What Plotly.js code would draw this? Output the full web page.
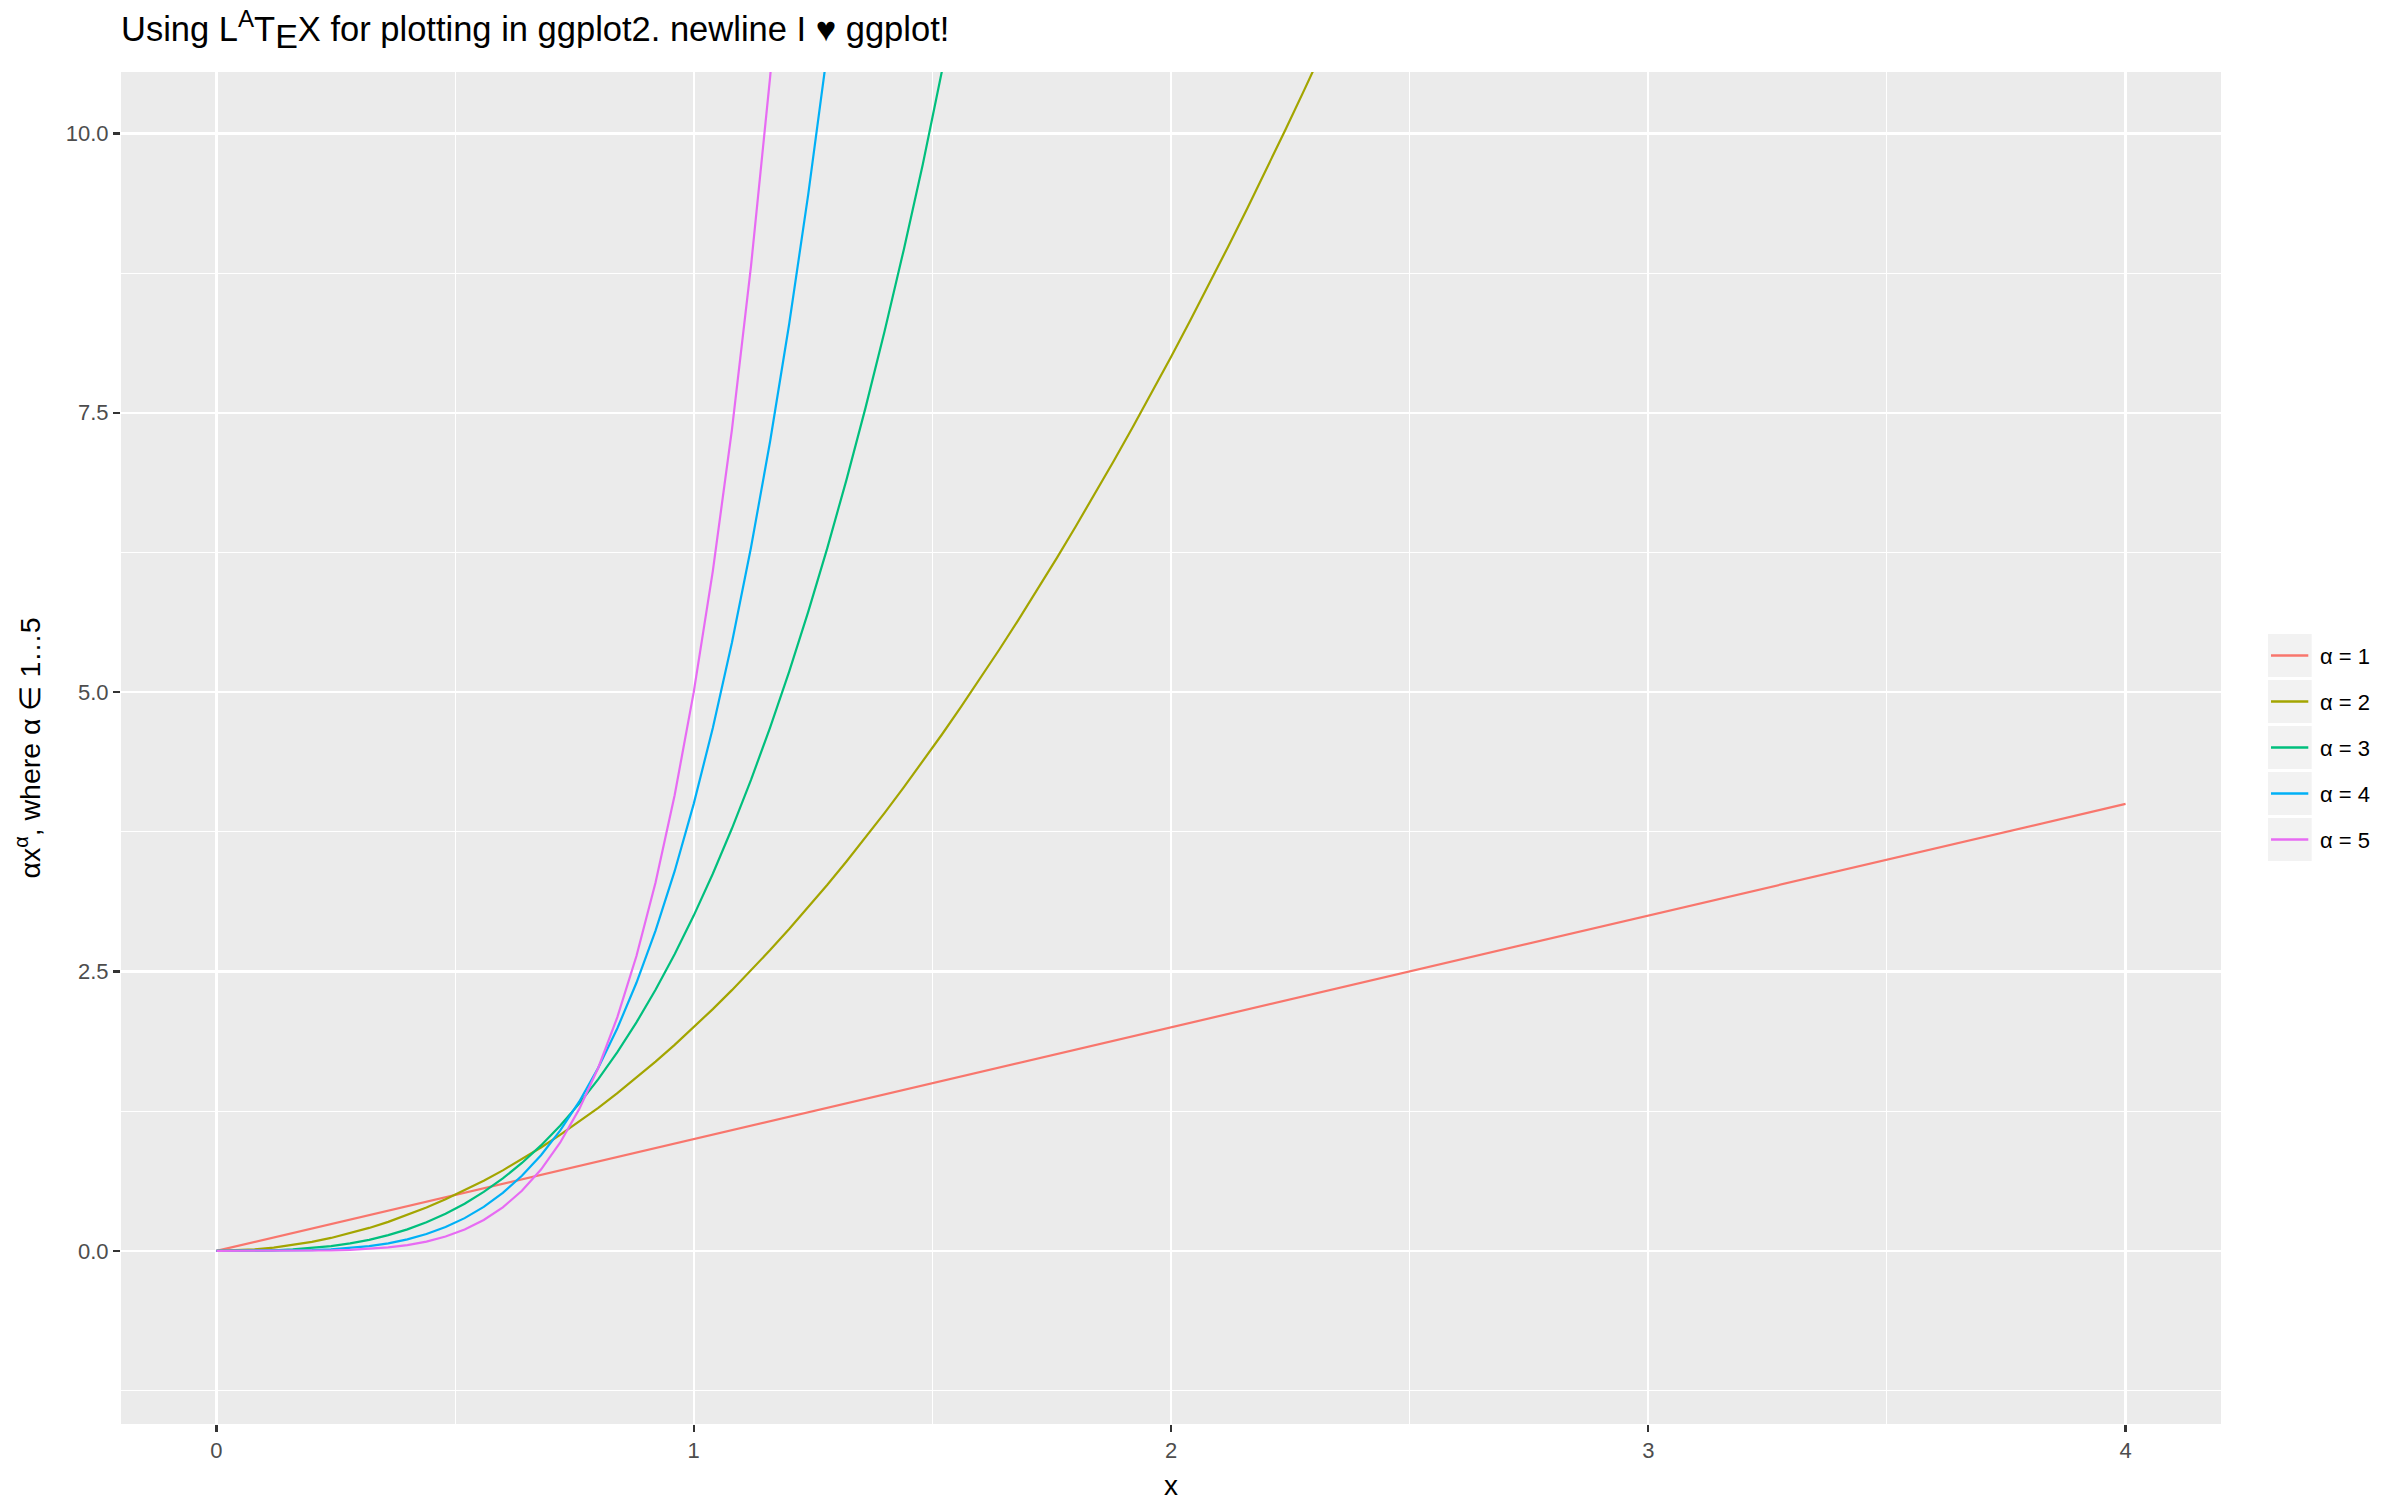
<!DOCTYPE html>
<html>
<head>
<meta charset="utf-8">
<script src="https://cdn.plot.ly/plotly-3.0.1.min.js"></script>
<style>
  html, body { margin: 0; padding: 0; background: #ffffff; }
  #chart { width: 2400px; height: 1504px; }
</style>
</head>
<body>
<div id="chart"></div>
<script>
// ---------------- data ----------------
const seriesNames = ["α = 1", "α = 2", "α = 3", "α = 4", "α = 5"];
const seriesColors = ["#F8766D", "#A3A500", "#00BF7D", "#00B0F6", "#E76BF3"];

const xValues = [0,0.04,0.08,0.12,0.16,0.2,0.24,0.28,0.32,0.36,0.4,0.44,0.48,0.52,0.56,0.6,0.64,0.68,0.72,0.76,
  0.8,0.84,0.88,0.92,0.96,1,1.04,1.08,1.12,1.16,1.2,1.24,1.28,1.32,1.36,1.4,1.44,1.48,1.52,1.56,
  1.6,1.64,1.68,1.72,1.76,1.8,1.84,1.88,1.92,1.96,2,2.04,2.08,2.12,2.16,2.2,2.24,2.28,2.32,2.36,
  2.4,2.44,2.48,2.52,2.56,2.6,2.64,2.68,2.72,2.76,2.8,2.84,2.88,2.92,2.96,3,3.04,3.08,3.12,3.16,
  3.2,3.24,3.28,3.32,3.36,3.4,3.44,3.48,3.52,3.56,3.6,3.64,3.68,3.72,3.76,3.8,3.84,3.88,3.92,3.96,4];

const yAlpha1 = [0,0.04,0.08,0.12,0.16,0.2,0.24,0.28,0.32,0.36,0.4,0.44,0.48,0.52,0.56,0.6,0.64,0.68,0.72,0.76,
  0.8,0.84,0.88,0.92,0.96,1,1.04,1.08,1.12,1.16,1.2,1.24,1.28,1.32,1.36,1.4,1.44,1.48,1.52,1.56,
  1.6,1.64,1.68,1.72,1.76,1.8,1.84,1.88,1.92,1.96,2,2.04,2.08,2.12,2.16,2.2,2.24,2.28,2.32,2.36,
  2.4,2.44,2.48,2.52,2.56,2.6,2.64,2.68,2.72,2.76,2.8,2.84,2.88,2.92,2.96,3,3.04,3.08,3.12,3.16,
  3.2,3.24,3.28,3.32,3.36,3.4,3.44,3.48,3.52,3.56,3.6,3.64,3.68,3.72,3.76,3.8,3.84,3.88,3.92,3.96,4];

const yAlpha2 = [0,0.0032,0.0128,0.0288,0.0512,0.08,0.1152,0.1568,0.2048,0.2592,0.32,0.3872,0.4608,0.5408,0.6272,
  0.72,0.8192,0.9248,1.0368,1.1552,1.28,1.4112,1.5488,1.6928,1.8432,2,2.1632,2.3328,2.5088,2.6912,
  2.88,3.0752,3.2768,3.4848,3.6992,3.92,4.1472,4.3808,4.6208,4.8672,5.12,5.3792,5.6448,5.9168,6.1952,
  6.48,6.7712,7.0688,7.3728,7.6832,8,8.3232,8.6528,8.9888,9.3312,9.68,10.0352,10.3968,10.7648];

const yAlpha3 = [0,0.0002,0.0015,0.0052,0.0123,0.024,0.0415,0.0659,0.0983,0.14,0.192,0.2556,0.3318,0.4218,0.5268,
  0.648,0.7864,0.9433,1.1197,1.3169,1.536,1.7781,2.0444,2.3361,2.6542,3,3.3746,3.7791,4.2148,4.6827,
  5.184,5.7199,6.2915,6.8999,7.5464,8.232,8.958,9.7254,10.5354,11.3892];

const yAlpha4 = [0,0.00001,0.0002,0.0008,0.0026,0.0064,0.0133,0.0246,0.0419,0.0672,0.1024,0.1499,0.2123,0.2925,
  0.3934,0.5184,0.6711,0.8553,1.075,1.3345,1.6384,1.9915,2.3988,2.8656,3.3974,4,4.6794,5.442,6.2941,
  7.2426,8.2944,9.4569,10.7374];

const yAlpha5 = [0,0.0000005,0.0000164,0.0001244,0.0005243,0.0016,0.0039813,0.0086052,0.0167772,0.0302331,0.0512,
  0.0824581,0.127402,0.190102,0.2753659,0.3888,0.5368709,0.7269668,0.9674588,1.2677627,1.6384,2.0910597,
  2.6386596,3.2954076,4.0768635,5,6.0832645,7.3466404,8.8117084,10.5016083,12.4416];

const ySeries = [yAlpha1, yAlpha2, yAlpha3, yAlpha4, yAlpha5];

const xTickVals = [0, 1, 2, 3, 4];
const xTickText = ["0", "1", "2", "3", "4"];
const yTickVals = [0, 2.5, 5, 7.5, 10];
const yTickText = ["0.0", "2.5", "5.0", "7.5", "10.0"];

const titleText = "Using L<sup>A</sup>T<sub><span style=\"font-size:34px\">E</span></sub>X for plotting in ggplot2. newline I ♥ ggplot!";
const xTitleText = "x";
const yTitleText = "αx<sup>α</sup>, where α ∈ 1…5";

// ---------------- layout helpers (pixel geometry) ----------------
const W = 2400, H = 1504;
const M = { l: 121, r: 179, t: 72, b: 80 };
const PW = W - M.l - M.r, PH = H - M.t - M.b;
const px2x = px => (px - M.l) / PW;
const py2y = py => (H - M.b - py) / PH;

const FONT = "Liberation Sans, Arial, Helvetica, sans-serif";

const traces = seriesNames.map((name, i) => ({
  type: "scatter",
  mode: "lines",
  name: name,
  x: xValues,
  y: ySeries[i],
  line: { color: seriesColors[i], width: 2.2 },
  showlegend: false,
  hoverinfo: "skip"
}));

// custom ggplot-style legend
const shapes = [];
const annotations = [];
seriesNames.forEach((name, i) => {
  const top = 634 + 46 * i;
  const bot = top + 43;
  const mid = (top + bot) / 2;
  shapes.push({
    type: "rect", xref: "paper", yref: "paper",
    x0: px2x(2268), x1: px2x(2311.7), y0: py2y(bot), y1: py2y(top),
    fillcolor: "#F2F2F2", line: { width: 0 }, layer: "above"
  });
  shapes.push({
    type: "line", xref: "paper", yref: "paper",
    x0: px2x(2271), x1: px2x(2308.3), y0: py2y(mid), y1: py2y(mid),
    line: { color: seriesColors[i], width: 2.4 }, layer: "above"
  });
  annotations.push({
    xref: "paper", yref: "paper", x: px2x(2318), y: py2y(mid + 1),
    xanchor: "left", yanchor: "middle", showarrow: false,
    text: name, font: { family: FONT, size: 22, color: "#000000" }
  });
});

const layout = {
  width: W, height: H,
  margin: M,
  paper_bgcolor: "#FFFFFF",
  plot_bgcolor: "#EBEBEB",
  showlegend: false,
  font: { family: FONT, color: "#000000" },
  title: {
    text: titleText,
    font: { family: FONT, size: 34.5, color: "#000000" },
    xref: "paper", x: 0, xanchor: "left",
    yref: "container", y: 1 - 29 / H, yanchor: "middle"
  },
  xaxis: {
    range: [-0.2, 4.2],
    tickvals: xTickVals, ticktext: xTickText,
    showgrid: true, gridcolor: "#FFFFFF", gridwidth: 2.2,
    minor: { dtick: 0.5, tick0: 0, showgrid: true, gridcolor: "#FFFFFF", gridwidth: 1.1, ticks: "" },
    zeroline: false, showline: false,
    ticks: "outside", ticklen: 7, tickwidth: 2.2, tickcolor: "#333333",
    tickfont: { family: FONT, size: 22, color: "#4D4D4D" },
    title: { text: xTitleText, font: { family: FONT, size: 28, color: "#000000" }, standoff: 12 },
    automargin: false
  },
  yaxis: {
    range: [-1.55, 10.55],
    tickvals: yTickVals, ticktext: yTickText,
    showgrid: true, gridcolor: "#FFFFFF", gridwidth: 2.2,
    minor: { dtick: 1.25, tick0: 0, showgrid: true, gridcolor: "#FFFFFF", gridwidth: 1.1, ticks: "" },
    zeroline: false, showline: false,
    ticks: "outside", ticklen: 7, tickwidth: 2.2, tickcolor: "#333333",
    tickfont: { family: FONT, size: 22, color: "#4D4D4D" },
    title: { text: yTitleText, font: { family: FONT, size: 28.5, color: "#000000" }, standoff: 16 },
    automargin: false
  },
  shapes: shapes,
  annotations: annotations
};

Plotly.newPlot("chart", traces, layout, { staticPlot: true, displayModeBar: false });
</script>
</body>
</html>
